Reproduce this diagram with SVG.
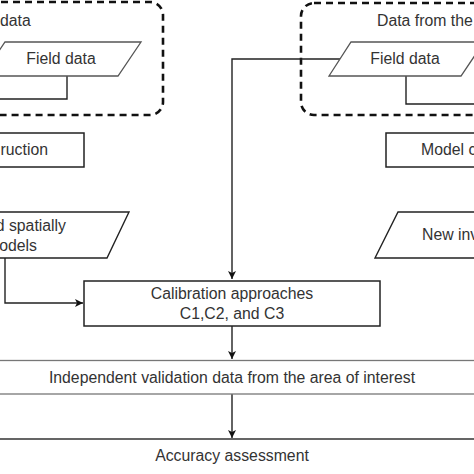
<svg xmlns="http://www.w3.org/2000/svg" width="474" height="474" viewBox="0 0 474 474">
<defs>
<style>
.t{font-family:"Liberation Sans",Arial,sans-serif;font-size:15.8px;fill:#333}
.grp{fill:none;stroke:#111;stroke-width:2.6;stroke-dasharray:7 5}
.io{fill:#fff;stroke:#555;stroke-width:1.3}
.io2{fill:#fff;stroke:#222;stroke-width:1.4}
.box{fill:#fff;stroke:#222;stroke-width:1.5}
.band{fill:#fff;stroke:#777;stroke-width:1.3}
.c{fill:none;stroke:#222;stroke-width:1.4}
.ca{fill:none;stroke:#222;stroke-width:1.4;marker-end:url(#ah)}
</style>
<marker id="ah" markerWidth="10" markerHeight="10" refX="8" refY="4" orient="auto" markerUnits="userSpaceOnUse">
<path d="M0,0 L8,4 L0,8 L2,4 Z" fill="#111"/>
</marker>
</defs>
<rect width="474" height="474" fill="#fff"/>

<g id="group-left">
<rect class="grp" x="-60" y="2" width="223" height="113" rx="13"/>
<text class="t" x="0" y="26">data</text>
</g>
<g id="group-right">
<rect class="grp" x="301" y="3" width="240" height="112" rx="13"/>
<text class="t" x="377" y="26">Data from the</text>
</g>

<g id="connectors">
<polyline class="c" points="67,76 67,99 -5,99"/>
<polyline class="c" points="406,76 406,104 480,104"/>
<polyline class="ca" points="340,59 232,59 232,279"/>
<polyline class="ca" points="5,258 5,303 83,303"/>
<line class="ca" x1="232" y1="326" x2="232" y2="359"/>
<line class="ca" x1="232" y1="394" x2="232" y2="438"/>
</g>

<g id="field-data-left">
<polygon class="io" points="5,42 141,42 118,76 -18,76"/>
<text class="t" x="61" y="64" text-anchor="middle">Field data</text>
</g>
<g id="field-data-right">
<polygon class="io" points="351,42 484,42 461,76 329,76"/>
<text class="t" x="405" y="64" text-anchor="middle">Field data</text>
</g>

<g id="model-left">
<rect class="box" x="-120" y="133" width="204" height="34"/>
<text class="t" x="48" y="155" text-anchor="end">ruction</text>
</g>
<g id="model-right">
<rect class="box" x="386" y="133" width="120" height="34"/>
<text class="t" x="421" y="155">Model c</text>
</g>

<g id="spatial-left">
<polygon class="io2" points="-20,212 129,212 107,258 -42,258"/>
<text class="t" x="66" y="231" text-anchor="end">d spatially</text>
<text class="t" x="37" y="251" text-anchor="end">odels</text>
</g>
<g id="new-right">
<polygon class="io2" points="398,212 520,212 498,258 375,258"/>
<text class="t" x="422" y="240">New inv</text>
</g>

<g id="calibration">
<rect class="box" x="84" y="281" width="296" height="45"/>
<text class="t" x="232" y="298.5" text-anchor="middle">Calibration approaches</text>
<text class="t" x="232" y="318.5" text-anchor="middle">C1,C2, and C3</text>
</g>

<g id="validation">
<rect class="band" x="-5" y="360.5" width="484" height="33.5"/>
<text class="t" x="232" y="382.5" text-anchor="middle">Independent validation data from the area of interest</text>
</g>

<g id="accuracy">
<rect x="-5" y="439" width="484" height="50" fill="#fff" stroke="#333" stroke-width="1.5"/>
<text class="t" x="232" y="461" text-anchor="middle">Accuracy assessment</text>
</g>
</svg>
